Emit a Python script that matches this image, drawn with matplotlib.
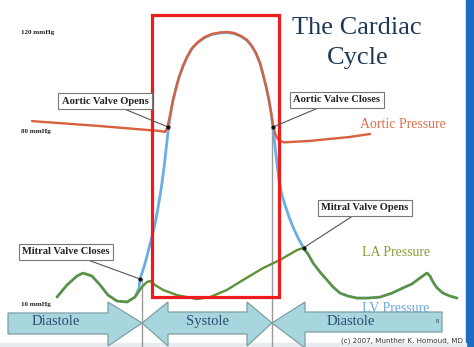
import matplotlib
matplotlib.use("Agg")
import matplotlib.pyplot as plt
import matplotlib.transforms as mtransforms
from matplotlib.patches import Polygon, Rectangle

# ---------------- data (time in px-like units, pressure in mmHg) ----------------
aortic_t = [32, 100, 160, 165, 167, 169, 171, 173, 176, 179, 183, 187, 192, 198,
            205, 212, 220, 227, 234, 241, 247, 252, 256, 260, 263, 266, 269, 271,
            273, 275, 277, 280, 284, 292, 310, 330, 350, 370]
aortic_p = [84.0, 82.0, 80.0, 79.6, 81.2, 84.4, 88.5, 92.5, 97.4, 101.8, 106.3,
            109.9, 113.5, 116.0, 118.0, 119.2, 119.8, 120.0, 119.6, 118.4, 116.8,
            114.3, 111.5, 107.5, 103.0, 98.2, 92.5, 87.7, 82.4, 79.2, 77.2, 76.0,
            75.4, 75.6, 76.0, 76.8, 77.6, 78.8]

la_t = [57, 67, 77, 83, 92, 100, 108, 117, 127, 135, 142, 147, 150, 155, 163, 177,
        197, 210, 227, 243, 263, 280, 297, 303, 308, 313, 320, 327, 333, 340, 348,
        357, 368, 380, 392, 403, 412, 420, 424, 427, 430, 433, 437, 443, 450, 457]
la_p = [12.9, 17.8, 21.4, 22.6, 21.4, 17.8, 13.7, 11.3, 10.9, 12.9, 17.0, 19.0,
        19.4, 17.8, 15.8, 13.7, 12.1, 12.9, 15.8, 19.8, 24.6, 27.9, 31.9, 32.7,
        30.3, 26.7, 23.0, 19.8, 17.0, 14.5, 13.3, 12.5, 12.5, 12.9, 14.5, 16.6,
        18.2, 20.6, 21.8, 22.6, 21.4, 19.0, 16.6, 14.5, 13.3, 12.5]

lv_t = [57, 67, 77, 83, 92, 100, 108, 117, 127, 135, 139, 140, 143, 146, 149, 152,
        155, 158, 161, 164, 166, 168, 170, 173, 176, 179, 183, 187, 192, 198, 205,
        212, 220, 227, 234, 241, 247, 252, 256, 260, 263, 266, 269, 271, 273, 276,
        279, 282, 285, 289, 293, 298, 302, 304, 308, 313, 320, 327, 333, 340, 348,
        357, 368, 380, 392, 403, 412, 420, 424, 427, 430, 433, 437, 443, 450, 457]
lv_p = [12.9, 17.8, 21.4, 22.6, 21.4, 17.8, 13.7, 11.3, 10.9, 12.9, 16.5, 20.2,
        23.8, 27.9, 32.7, 37.2, 42.4, 48.9, 56.2, 65.1, 72.3, 79.6, 85.3, 92.3,
        97.2, 101.6, 106.1, 109.7, 113.3, 115.8, 117.8, 119.0, 119.6, 119.8, 119.4,
        118.2, 116.6, 114.1, 111.3, 107.3, 102.8, 98.0, 92.3, 87.5, 81.2, 70.3,
        60.2, 54.1, 50.1, 45.3, 41.2, 36.8, 33.9, 32.7, 30.3, 26.7, 23.0, 19.8,
        17.0, 14.5, 13.3, 12.5, 12.5, 12.9, 14.5, 16.6, 18.2, 20.6, 21.8, 22.6,
        21.4, 19.0, 16.6, 14.5, 13.3, 12.5]

pressure_ticks = [120, 80, 10]
pressure_labels = ["120 mmHg", "80 mmHg", "10 mmHg"]

# events: (label, time, pressure)
events = [("Aortic Valve Opens", 168, 81.6),
          ("Aortic Valve Closes", 273, 81.6),
          ("Mitral Valve Opens", 304, 32.9),
          ("Mitral Valve Closes", 140, 20.2)]

phase_bounds = [8, 142, 272, 442]
phase_names = ["Diastole", "Systole", "Diastole"]

# ---------------- figure ----------------
W, H = 474, 347
fig = plt.figure(figsize=(W / 100, H / 100), dpi=100)
ax = fig.add_axes([0, 0, 1, 1])
ax.set_xlim(0, W)
p_top = 120 + 32 / 2.475
p_bot = 120 - (H - 32) / 2.475
ax.set_ylim(p_bot, p_top)
ax.axis("off")

pix = mtransforms.Affine2D().scale(1 / W, -1 / H).translate(0, 1) + fig.transFigure
serif = "Liberation Serif"

# right blue bar & bottom strip
ax.add_patch(Rectangle((466, 0), 8, H, transform=pix, color="#1d6cc0", zorder=0))
ax.add_patch(Rectangle((0, 343), 466, 4, transform=pix, color="#e6ecef", zorder=0))

# vertical gray lines
ax.plot([phase_bounds[1]] * 2, [20.2, p_bot], color="#9a9a9a", lw=1.0, zorder=2)
ax.plot([phase_bounds[2]] * 2, [81.6, p_bot], color="#9a9a9a", lw=1.0, zorder=2)

# curves
ax.plot(lv_t, lv_p, color="#6aaee2", lw=2.0, zorder=3, solid_capstyle="round",
        solid_joinstyle="round")
ax.plot(la_t, la_p, color="#5e9236", lw=1.7, zorder=4, solid_capstyle="round",
        solid_joinstyle="round")
ax.plot(aortic_t, aortic_p, color="#d9603c", lw=1.7, zorder=5, solid_capstyle="round",
        solid_joinstyle="round")

# red systole box
ax.add_patch(Rectangle((152, 15), 127, 282, transform=pix, fill=False,
                       edgecolor="#ee1c1c", lw=2.3, zorder=6))

# pressure labels
for pv, lab in zip(pressure_ticks, pressure_labels):
    ax.text(21, pv, lab, fontsize=5, family=serif, weight="bold", color="#222",
            va="center", ha="left", zorder=10)

# annotations
box_pos = [(105, 101), (337, 100), (365, 208), (66, 252)]
for (lab, t, p), (bx, by) in zip(events, box_pos):
    ax.annotate(lab, xy=(t, p), xytext=(bx, by), textcoords=pix,
                ha="center", va="center", fontsize=7.6, family=serif, weight="bold",
                color="#222",
                bbox=dict(boxstyle="square,pad=0.35", fc="white", ec="#777", lw=0.8),
                arrowprops=dict(arrowstyle="-", color="#555", lw=0.8,
                                shrinkA=0, shrinkB=0), zorder=9)
    ax.plot(t, p, "o", color="#111", ms=2, zorder=9)

# title
ax.text(357, 28, "The Cardiac", transform=pix, fontsize=19, family=serif,
        color="#1e3a58", ha="center", va="center", zorder=10)
ax.text(358, 58, "Cycle", transform=pix, fontsize=19, family=serif,
        color="#1e3a58", ha="center", va="center", zorder=10)

# curve labels
ax.text(403, 125, "Aortic Pressure", transform=pix, fontsize=10, family=serif,
        color="#d8704c", ha="center", va="center", zorder=10)
ax.text(396, 253, "LA Pressure", transform=pix, fontsize=10, family=serif,
        color="#8c9a3a", ha="center", va="center", zorder=10)
ax.text(396, 309, "LV Pressure", transform=pix, fontsize=10, family=serif,
        color="#6aa8d8", ha="center", va="center", zorder=10)

# phase arrows
fill_c, edge_c = "#a8d6df", "#7f9ea5"
a, b, c, d = phase_bounds
yc, bt, bb, ht, hb = 323, 313, 334, 302, 346
shapes = [
    [(a, bt), (108, bt), (108, ht), (b, yc), (108, hb), (108, bb), (a, bb)],
    [(b, yc), (168, ht), (168, bt - 1), (247, bt - 1), (247, ht), (c, yc),
     (247, hb), (247, bb), (168, bb), (168, hb)],
    [(c, yc), (305, ht), (305, bt - 1), (d, bt - 1), (d, bb - 2), (305, bb - 2),
     (305, 348)],
]
for pts in shapes:
    ax.add_patch(Polygon(pts, closed=True, transform=pix, fc=fill_c,
                         ec=edge_c, lw=0.9, zorder=1))

for name, xc in zip(phase_names, [56, 208, 351]):
    ax.text(xc, 322, name, transform=pix, fontsize=10.5, family=serif,
            color="#2a4d70", ha="center", va="center", zorder=10)
ax.text(437, 322, "8", transform=pix, fontsize=4.5, family=serif, color="#333",
        ha="center", va="center", zorder=10)

ax.text(463, 341, "(c) 2007, Munther K. Homoud, MD", transform=pix, fontsize=5.1,
        family="DejaVu Sans", color="#333", ha="right", va="center", zorder=10)

fig.savefig("out.png", dpi=100)
